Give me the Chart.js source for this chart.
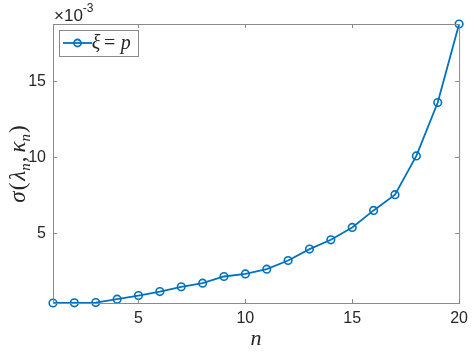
<!DOCTYPE html>
<html>
<head>
<meta charset="utf-8">
<script src="https://cdn.jsdelivr.net/npm/chart.js@4/dist/chart.umd.min.js"></script>
<style>
  html, body { margin: 0; padding: 0; background: #fff; }
  canvas { display: block; }
</style>
</head>
<body>
<canvas id="chart" width="474" height="355"></canvas>
<script>
// n values and sigma(lambda_n, kappa_n) in units of 1e-3
const n = [1, 2, 3, 4, 5, 6, 7, 8, 9, 10, 11, 12, 13, 14, 15, 16, 17, 18, 19, 20];
const sigma = [0.43, 0.44, 0.46, 0.68, 0.92, 1.18, 1.49, 1.73, 2.17, 2.34,
               2.65, 3.22, 3.97, 4.58, 5.39, 6.51, 7.54, 10.09, 13.59, 18.75];
const xTicks = [5, 10, 15, 20];
const yTicks = [5, 10, 15];
const seriesLabel = 'ξ = p';

const blue = '#0072BD';
const axisColor = '#8a8a8a';
const textColor = '#262626';
const sansFont = '"Liberation Sans", Arial, sans-serif';
const serifFont = '"Liberation Serif", "DejaVu Serif", serif';

// box, inward ticks, labels and legend drawn like a matlab axes
const matlabAxes = {
  id: 'matlabAxes',
  afterDraw(chart) {
    const { ctx, chartArea: a, scales } = chart;
    ctx.save();
    ctx.strokeStyle = axisColor;
    ctx.lineWidth = 1;
    ctx.strokeRect(a.left + 0.5, a.top + 0.5, a.right - a.left, a.bottom - a.top);
    ctx.beginPath();
    xTicks.forEach(v => {
      const x = Math.round(scales.x.getPixelForValue(v)) + 0.5;
      ctx.moveTo(x, a.bottom); ctx.lineTo(x, a.bottom - 4);
      ctx.moveTo(x, a.top); ctx.lineTo(x, a.top + 4);
    });
    yTicks.forEach(v => {
      const y = Math.round(scales.y.getPixelForValue(v)) + 0.5;
      ctx.moveTo(a.left, y); ctx.lineTo(a.left + 4, y);
      ctx.moveTo(a.right, y); ctx.lineTo(a.right - 4, y);
    });
    ctx.stroke();

    // exponent
    ctx.fillStyle = textColor;
    ctx.textBaseline = 'alphabetic';
    ctx.textAlign = 'left';
    ctx.font = '17px ' + sansFont;
    ctx.fillText('×10', 54, 21);
    const w = ctx.measureText('×10').width;
    ctx.font = '12px ' + sansFont;
    ctx.fillText('-3', 54 + w, 12);

    // x title
    ctx.font = 'italic 22px ' + serifFont;
    ctx.textAlign = 'center';
    ctx.fillText('n', (a.left + a.right) / 2, 345);

    // y title: sigma(lambda_n, kappa_n) with subscripts
    ctx.save();
    ctx.translate(25, 164);
    ctx.rotate(-Math.PI / 2);
    const parts = [
      ['σ', 'italic 23px ', 0, 1], ['(', '23px ', 0, 2], ['λ', 'italic 23px ', 0, 0],
      ['n', 'italic 15px ', 5, 1], [',', '23px ', 0, 4], ['κ', 'italic 23px ', 0, 0],
      ['n', 'italic 15px ', 5, 1], [')', '23px ', 0, 0]
    ];
    let total = 0;
    parts.forEach(p => { ctx.font = p[1] + serifFont; total += ctx.measureText(p[0]).width + p[3]; });
    let px = -total / 2;
    ctx.textAlign = 'left';
    parts.forEach(p => {
      ctx.font = p[1] + serifFont;
      ctx.fillText(p[0], px, p[2]);
      px += ctx.measureText(p[0]).width + p[3];
    });
    ctx.restore();

    // legend
    const lx = 59, ly = 30, lw = 79, lh = 26;
    ctx.fillStyle = '#fff';
    ctx.fillRect(lx, ly, lw, lh);
    ctx.strokeStyle = axisColor;
    ctx.strokeRect(lx + 0.5, ly + 0.5, lw, lh);
    const my = ly + 13;
    ctx.strokeStyle = blue;
    ctx.lineWidth = 1.8;
    ctx.beginPath();
    ctx.moveTo(lx + 4, my); ctx.lineTo(lx + 33, my);
    ctx.stroke();
    ctx.beginPath();
    ctx.arc(lx + 18.5, my, 3.5, 0, Math.PI * 2);
    ctx.stroke();
    ctx.fillStyle = textColor;
    ctx.textBaseline = 'middle';
    let tx = lx + 37;
    const legendParts = seriesLabel.split(' ');
    legendParts.forEach((s, i) => {
      ctx.font = (s === '=' ? '20px ' : 'italic 20px ') + serifFont;
      ctx.fillText(s, tx, my + 1);
      tx += ctx.measureText(s).width + (i < legendParts.length - 1 ? 5 : 0);
    });
    ctx.restore();
  }
};

new Chart(document.getElementById('chart'), {
  type: 'line',
  data: {
    datasets: [{
      label: seriesLabel,
      data: n.map((v, i) => ({ x: v, y: sigma[i] })),
      borderColor: blue,
      backgroundColor: 'rgba(0,0,0,0)',
      borderWidth: 1.8,
      pointRadius: 3.8,
      pointBorderWidth: 1.6,
      pointBorderColor: blue,
      pointBackgroundColor: 'rgba(0,0,0,0)',
      tension: 0,
      clip: false
    }]
  },
  options: {
    responsive: false,
    animation: false,
    events: [],
    layout: { padding: { left: 0, right: 10, top: 24, bottom: 0 } },
    plugins: { legend: { display: false }, tooltip: { enabled: false } },
    scales: {
      x: {
        type: 'linear',
        min: 1,
        max: 20,
        grid: { display: false, drawTicks: false },
        border: { display: false },
        afterBuildTicks: s => { s.ticks = xTicks.map(v => ({ value: v })); },
        afterFit: s => { s.height = 52; },
        ticks: { color: textColor, font: { family: sansFont, size: 16 }, padding: 6, maxRotation: 0 }
      },
      y: {
        type: 'linear',
        min: 0.43,
        max: 18.75,
        grid: { display: false, drawTicks: false },
        border: { display: false },
        afterBuildTicks: s => { s.ticks = yTicks.map(v => ({ value: v })); },
        afterFit: s => { s.width = 53; },
        ticks: { color: textColor, font: { family: sansFont, size: 16 }, padding: 7 }
      }
    }
  },
  plugins: [matlabAxes]
});
</script>
</body>
</html>
